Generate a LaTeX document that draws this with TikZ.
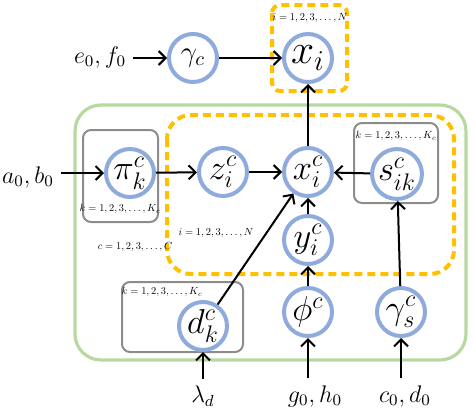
\documentclass[tikz,border=0pt]{standalone}
\usepackage{amsmath}
\usepackage{amssymb}
\usetikzlibrary{arrows.meta}
\definecolor{nodeblue}{RGB}{143,170,220}
\definecolor{plateyellow}{RGB}{255,192,0}
\definecolor{plategreen}{RGB}{184,216,162}
\definecolor{plategray}{RGB}{140,140,140}

\begin{document}
\begin{tikzpicture}[x=0.5pt,y=-0.5pt,
  var/.style={circle,draw=nodeblue,line width=2pt,fill=white,minimum size=24pt,inner sep=0pt},
  edge/.style={-{Straight Barb[length=3.5pt,width=7pt]},line width=1pt},
  grayplate/.style={draw=plategray,line width=1pt,rounded corners=4pt},
  yellowplate/.style={draw=plateyellow,line width=2pt,dash pattern=on 4pt off 2.5pt,rounded corners=12pt},
  greenplate/.style={draw=plategreen,line width=1.6pt,rounded corners=13pt},
  idx/.style={scale=0.52,inner sep=1pt}]

\useasboundingbox (0,0) rectangle (474,412);

% plates
\draw[greenplate] (75,105) rectangle (466,360);
\draw[yellowplate] (167,115) rectangle (454,274);
\draw[yellowplate,rounded corners=4pt] (272,5) rectangle (347,91);
\draw[grayplate] (83,130) rectangle (158,222);
\draw[grayplate] (354,123) rectangle (438,203);
\draw[grayplate] (122,282) rectangle (243,352);

% index labels
\node[idx] (idxN)  at (310,18)  {$i=1,2,3,\dots,N$};
\node[idx] (idxKs) at (396,136) {$k=1,2,3,\dots,K_c$};
\node[idx] (idxKp) at (120,209) {$k=1,2,3,\dots,K_c$};
\node[idx] (idxC)  at (135,247) {$c=1,2,3,\dots,C$};
\node[idx] (idxNc) at (216,233) {$i=1,2,3,\dots,N$};
\node[idx] (idxKd) at (162,292) {$k=1,2,3,\dots,K_c$};

% variables
\node[var] (xi)  at (308,58)  {\huge $x_i$};
\node[var] (gc)  at (193,58)  {\Large $\gamma_c$};
\node[var] (pi)  at (130,173) {\LARGE $\pi_k^c$};
\node[var] (z)   at (223,172) {\LARGE $z_i^c$};
\node[var] (xic) at (308,172) {\LARGE $x_i^c$};
\node[var] (s)   at (397,174) {\LARGE $s_{ik}^c$};
\node[var] (y)   at (308,240) {\LARGE $y_i^c$};
\node[var] (d)   at (203,326) {\LARGE $d_k^c$};
\node[var] (phi) at (308,312) {\LARGE $\phi^c$};
\node[var] (gs)  at (401,312) {\LARGE $\gamma_s^c$};

% hyperparameters
\node (ef)  at (100,57)  {\large $e_0,f_0$};
\node (ab)  at (28,177)  {\large $a_0,b_0$};
\node (lam) at (203,396) {\large $\lambda_d$};
\node (gh)  at (315,396) {\large $g_0,h_0$};
\node (cd)  at (405,396) {\large $c_0,d_0$};

% edges
\draw[edge] (ef.east |- gc) -- (gc);
\draw[edge] (gc) -- (xi);
\draw[edge] (ab.east |- pi) -- (pi);
\draw[edge] (pi) -- (z);
\draw[edge] (z) -- (xic);
\draw[edge] (s) -- (xic);
\draw[edge] (xic) -- (xi);
\draw[edge] (y) -- (xic);
\draw[edge] (phi) -- (y);
\draw[edge] (gs) -- (s);
\draw[edge] (d) -- (xic);
\draw[edge] (lam) -- (d);
\draw[edge] (gh.north -| phi) -- (phi);
\draw[edge] (cd.north -| gs) -- (gs);

\end{tikzpicture}
\end{document}
